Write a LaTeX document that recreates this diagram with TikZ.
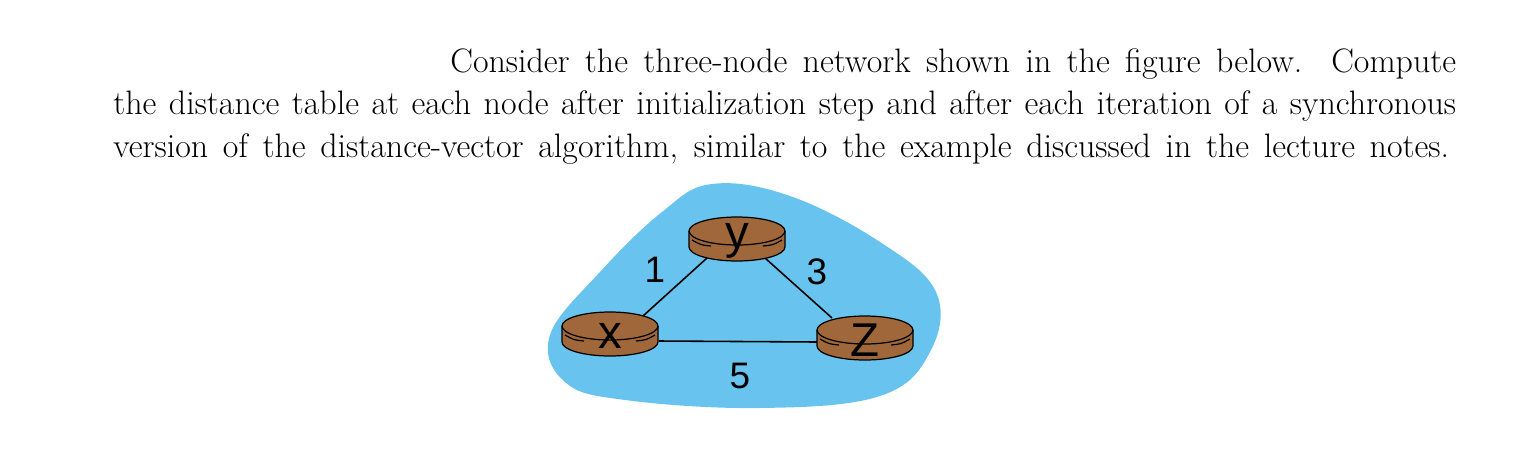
\documentclass[tikz,border=0pt]{standalone}
\usepackage{fontspec}
\newfontfamily\figsans{Liberation Sans}
\definecolor{blob}{RGB}{104,196,238}
\definecolor{rbrown}{RGB}{160,104,58}
\begin{document}
\begin{tikzpicture}[x=0.02cm,y=-0.02cm,
  txt/.style={anchor=base west,inner sep=0pt,font=\fontsize{19.3}{24}\selectfont},
  lbl/.style={font=\figsans\fontsize{21}{24}\selectfont,inner sep=0pt},
  link/.style={line width=0.9pt}]
\useasboundingbox (0,0) rectangle (1516,451);
\node[txt] (l1) at (450,72) {\makebox[20.12cm][s]{Consider the three-node network shown in the figure below. Compute}};
\node[txt] (l2) at (113,114) {\makebox[26.86cm][s]{the distance table at each node after initialization step and after each iteration of a synchronous}};
\node[txt] (l3) at (113,157) {\makebox[26.72cm][s]{version of the distance-vector algorithm, similar to the example discussed in the lecture notes.}};
% blob
\fill[blob] plot[smooth cycle,tension=0.65] coordinates {(712,184) (790,196) (880,242) (936,292) (930,352) (880,396) (760,408) (625,400) (565,382) (550,335) (600,272) (662,212)};
% links
\coordinate (xr) at (643,316); \coordinate (yl) at (707,258);
\coordinate (yr) at (765,258); \coordinate (zl) at (832,318);
\coordinate (xe) at (659,341); \coordinate (ze) at (817,342);
\draw[link] (xr) -- (yl);
\draw[link] (yr) -- (zl);
\draw[link] (xe) -- (ze);
% routers
\foreach \n/\cx/\cy/\t in {y/737/231/y, x/610/326/x, z/865/330/Z}{
  \begin{scope}[shift={(\cx,\cy)}]
    \filldraw[fill=rbrown,draw=black,line width=0.7pt] (-48,0) -- (-48,16) arc[start angle=180,end angle=0,x radius=48,y radius=14] -- (48,0) arc[start angle=0,end angle=-180,x radius=48,y radius=14] -- cycle;
    \draw[line width=0.7pt] (-48,0) arc[start angle=180,end angle=0,x radius=48,y radius=14];
    \draw[line width=0.7pt] (-45,9) .. controls (-36,14) .. (-26,15);
    \draw[line width=0.7pt] (45,9) .. controls (36,14) .. (26,15);
    \node[lbl,font=\figsans\fontsize{27}{28}\selectfont] (\n) at (0,10) {\t};
  \end{scope}
}
\node[lbl] (c1) at (655,270) {1};
\node[lbl] (c3) at (817,272) {3};
\node[lbl] (c5) at (740,376) {5};
\end{tikzpicture}
\end{document}
